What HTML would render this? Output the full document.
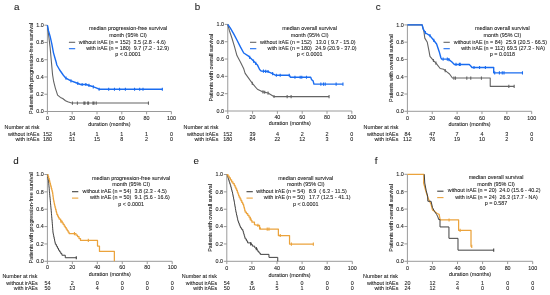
<!DOCTYPE html>
<html><head><meta charset="utf-8"><style>
html,body{margin:0;padding:0;background:#fff;}
#w{width:550px;height:295px;overflow:hidden;}
svg{display:block;font-family:"Liberation Sans",sans-serif;will-change:transform;}
text{stroke:#1a1a1a;stroke-width:0.08;}
</style></head><body>
<div id="w"><svg width="550" height="295" viewBox="0 0 550 295">
<rect width="550" height="295" fill="#fff"/>
<text x="14" y="10.3" font-size="9.8" fill="#1a1a1a">a</text>
<text transform="translate(32.9,68.35) rotate(-90)" text-anchor="middle" font-size="5.4" fill="#1a1a1a">Patients with progression-free survival</text>
<path d="M47.4 25.2V111.5H171.4M44.4 111.5H47.4M44.4 94.24H47.4M44.4 76.98H47.4M44.4 59.72H47.4M44.4 42.46H47.4M44.4 25.2H47.4M47.4 111.5V114.3M72.2 111.5V114.3M97 111.5V114.3M121.8 111.5V114.3M146.6 111.5V114.3M171.4 111.5V114.3" stroke="#8e8e8e" stroke-width="0.9" fill="none"/>
<text x="43.7" y="113.4" text-anchor="end" font-size="5.4" fill="#1a1a1a">0.0</text>
<text x="43.7" y="96.14" text-anchor="end" font-size="5.4" fill="#1a1a1a">0.2</text>
<text x="43.7" y="78.88" text-anchor="end" font-size="5.4" fill="#1a1a1a">0.4</text>
<text x="43.7" y="61.62" text-anchor="end" font-size="5.4" fill="#1a1a1a">0.6</text>
<text x="43.7" y="44.36" text-anchor="end" font-size="5.4" fill="#1a1a1a">0.8</text>
<text x="43.7" y="27.1" text-anchor="end" font-size="5.4" fill="#1a1a1a">1.0</text>
<text x="47.4" y="119.7" text-anchor="middle" font-size="5.4" fill="#1a1a1a">0</text>
<text x="72.2" y="119.7" text-anchor="middle" font-size="5.4" fill="#1a1a1a">20</text>
<text x="97" y="119.7" text-anchor="middle" font-size="5.4" fill="#1a1a1a">40</text>
<text x="121.8" y="119.7" text-anchor="middle" font-size="5.4" fill="#1a1a1a">60</text>
<text x="146.6" y="119.7" text-anchor="middle" font-size="5.4" fill="#1a1a1a">80</text>
<text x="171.4" y="119.7" text-anchor="middle" font-size="5.4" fill="#1a1a1a">100</text>
<text x="109.4" y="125.6" text-anchor="middle" font-size="5.4" fill="#1a1a1a">duration (months)</text>
<text x="4.5" y="128.6" font-size="5.4" fill="#1a1a1a">Number at risk</text>
<text x="39.4" y="136" text-anchor="end" font-size="5.4" fill="#1a1a1a">without irAEs</text>
<text x="39.4" y="140.8" text-anchor="end" font-size="5.4" fill="#1a1a1a">with irAEs</text>
<text x="47.4" y="136" text-anchor="middle" font-size="5.4" fill="#1a1a1a">152</text>
<text x="72.2" y="136" text-anchor="middle" font-size="5.4" fill="#1a1a1a">14</text>
<text x="97" y="136" text-anchor="middle" font-size="5.4" fill="#1a1a1a">1</text>
<text x="121.8" y="136" text-anchor="middle" font-size="5.4" fill="#1a1a1a">1</text>
<text x="146.6" y="136" text-anchor="middle" font-size="5.4" fill="#1a1a1a">1</text>
<text x="171.4" y="136" text-anchor="middle" font-size="5.4" fill="#1a1a1a">0</text>
<text x="47.4" y="140.8" text-anchor="middle" font-size="5.4" fill="#1a1a1a">180</text>
<text x="72.2" y="140.8" text-anchor="middle" font-size="5.4" fill="#1a1a1a">51</text>
<text x="97" y="140.8" text-anchor="middle" font-size="5.4" fill="#1a1a1a">15</text>
<text x="121.8" y="140.8" text-anchor="middle" font-size="5.4" fill="#1a1a1a">8</text>
<text x="146.6" y="140.8" text-anchor="middle" font-size="5.4" fill="#1a1a1a">2</text>
<text x="171.4" y="140.8" text-anchor="middle" font-size="5.4" fill="#1a1a1a">0</text>
<text x="128" y="30.3" text-anchor="middle" font-size="5.4" fill="#1a1a1a">median progression-free survival</text>
<text x="128" y="36.8" text-anchor="middle" font-size="5.4" fill="#1a1a1a">month (95% CI)</text>
<path d="M68.9 42.3H75.2" stroke="#646464" stroke-width="1.1"/>
<text x="107.5" y="43.5" text-anchor="end" font-size="5.4" fill="#1a1a1a">without irAE</text>
<text x="108.8" y="43.5" font-size="5.4" fill="#1a1a1a">(n = 152)</text>
<text x="133.5" y="43.5" font-size="5.4" fill="#1a1a1a" xml:space="preserve">3.5 (2.8 - 4.6)</text>
<path d="M68.9 48.7H75.2" stroke="#1a6cf0" stroke-width="1.1"/>
<text x="107.5" y="49.9" text-anchor="end" font-size="5.4" fill="#1a1a1a">with irAE</text>
<text x="108.8" y="49.9" font-size="5.4" fill="#1a1a1a">(n = 180)</text>
<text x="133.8" y="49.9" font-size="5.4" fill="#1a1a1a" xml:space="preserve">9.7 (7.2 - 12.9)</text>
<text x="128" y="56.3" text-anchor="middle" font-size="5.4" fill="#1a1a1a">p < 0.0001</text>
<path d="M47.4 25.2 L48.7 35.56 L50.13 47.64 L51.37 61.45 L52.6 75 L53.7 81.73 L55.4 88.37 L57.61 95.1 L60.4 97.43 L62.7 98.47 L65.5 100.71 L67.74 101.83 L71.58 103.04 L148.46 103.04" stroke="#646464" stroke-width="1.1" fill="none" stroke-linejoin="round"/>
<path d="M72.45 101.44V104.64M77.41 101.44V104.64M83.86 101.44V104.64M84.97 101.44V104.64M87.7 101.44V104.64M88.57 101.44V104.64M92.91 101.44V104.64M94.02 101.44V104.64M96.26 101.44V104.64M148.46 101.44V104.64" stroke="#646464" stroke-width="1.1"/>
<path d="M47.4 25.2 L48.39 30.38 L50.13 36.42 L51.86 44.19 L53.48 52.82 L55.96 61.45 L56.82 64.98 L59.68 69.99 L63.2 75 L65.5 77.84 L70.46 80.6 L76.11 82.76 L80.63 84.49 L86.21 84.49 L91.67 86.21 L96.19 87.94 L99.11 89.23 L162.35 89.23" stroke="#1a6cf0" stroke-width="1.4" fill="none" stroke-linejoin="round"/>
<path d="M66 76.52V79.72M70.96 79.19V82.39M77.78 81.8V85M82.12 82.89V86.09M85.84 82.89V86.09M88.94 83.75V86.95M93.28 85.23V88.43M99.11 87.63V90.83M108.66 87.63V90.83M114.48 87.63V90.83M119.57 87.63V90.83M125.4 87.63V90.83M134.57 87.63V90.83M139.66 87.63V90.83M143 87.63V90.83M162.35 87.63V90.83" stroke="#1a6cf0" stroke-width="1.1"/>
<text x="194.7" y="10.3" font-size="9.8" fill="#1a1a1a">b</text>
<text transform="translate(213.25,67.7) rotate(-90)" text-anchor="middle" font-size="5.4" fill="#1a1a1a">Patients with overall survival</text>
<path d="M227.75 24.4V111H351.85M224.75 111H227.75M224.75 93.68H227.75M224.75 76.36H227.75M224.75 59.04H227.75M224.75 41.72H227.75M224.75 24.4H227.75M227.75 111V113.8M252.57 111V113.8M277.39 111V113.8M302.21 111V113.8M327.03 111V113.8M351.85 111V113.8" stroke="#8e8e8e" stroke-width="0.9" fill="none"/>
<text x="224.05" y="112.9" text-anchor="end" font-size="5.4" fill="#1a1a1a">0.0</text>
<text x="224.05" y="95.58" text-anchor="end" font-size="5.4" fill="#1a1a1a">0.2</text>
<text x="224.05" y="78.26" text-anchor="end" font-size="5.4" fill="#1a1a1a">0.4</text>
<text x="224.05" y="60.94" text-anchor="end" font-size="5.4" fill="#1a1a1a">0.6</text>
<text x="224.05" y="43.62" text-anchor="end" font-size="5.4" fill="#1a1a1a">0.8</text>
<text x="224.05" y="26.3" text-anchor="end" font-size="5.4" fill="#1a1a1a">1.0</text>
<text x="227.75" y="118.9" text-anchor="middle" font-size="5.4" fill="#1a1a1a">0</text>
<text x="252.57" y="118.9" text-anchor="middle" font-size="5.4" fill="#1a1a1a">20</text>
<text x="277.39" y="118.9" text-anchor="middle" font-size="5.4" fill="#1a1a1a">40</text>
<text x="302.21" y="118.9" text-anchor="middle" font-size="5.4" fill="#1a1a1a">60</text>
<text x="327.03" y="118.9" text-anchor="middle" font-size="5.4" fill="#1a1a1a">80</text>
<text x="351.85" y="118.9" text-anchor="middle" font-size="5.4" fill="#1a1a1a">100</text>
<text x="289.8" y="124.8" text-anchor="middle" font-size="5.4" fill="#1a1a1a">duration (months)</text>
<text x="183.5" y="128.6" font-size="5.4" fill="#1a1a1a">Number at risk</text>
<text x="218.4" y="136.1" text-anchor="end" font-size="5.4" fill="#1a1a1a">without irAEs</text>
<text x="218.4" y="140.9" text-anchor="end" font-size="5.4" fill="#1a1a1a">with irAEs</text>
<text x="227.75" y="136.1" text-anchor="middle" font-size="5.4" fill="#1a1a1a">152</text>
<text x="252.57" y="136.1" text-anchor="middle" font-size="5.4" fill="#1a1a1a">39</text>
<text x="277.39" y="136.1" text-anchor="middle" font-size="5.4" fill="#1a1a1a">4</text>
<text x="302.21" y="136.1" text-anchor="middle" font-size="5.4" fill="#1a1a1a">2</text>
<text x="327.03" y="136.1" text-anchor="middle" font-size="5.4" fill="#1a1a1a">2</text>
<text x="351.85" y="136.1" text-anchor="middle" font-size="5.4" fill="#1a1a1a">0</text>
<text x="227.75" y="140.9" text-anchor="middle" font-size="5.4" fill="#1a1a1a">180</text>
<text x="252.57" y="140.9" text-anchor="middle" font-size="5.4" fill="#1a1a1a">84</text>
<text x="277.39" y="140.9" text-anchor="middle" font-size="5.4" fill="#1a1a1a">22</text>
<text x="302.21" y="140.9" text-anchor="middle" font-size="5.4" fill="#1a1a1a">12</text>
<text x="327.03" y="140.9" text-anchor="middle" font-size="5.4" fill="#1a1a1a">3</text>
<text x="351.85" y="140.9" text-anchor="middle" font-size="5.4" fill="#1a1a1a">0</text>
<text x="309.6" y="30.3" text-anchor="middle" font-size="5.4" fill="#1a1a1a">median overall survival</text>
<text x="309.6" y="36.8" text-anchor="middle" font-size="5.4" fill="#1a1a1a">month (95% CI)</text>
<path d="M250 42.3H256.3" stroke="#646464" stroke-width="1.1"/>
<text x="288.8" y="43.5" text-anchor="end" font-size="5.4" fill="#1a1a1a">without irAE</text>
<text x="290.1" y="43.5" font-size="5.4" fill="#1a1a1a">(n = 152)</text>
<text x="315.8" y="43.5" font-size="5.4" fill="#1a1a1a" xml:space="preserve">13.0 ( 9.7 - 15.0)</text>
<path d="M250 48.7H256.3" stroke="#1a6cf0" stroke-width="1.1"/>
<text x="288.8" y="49.9" text-anchor="end" font-size="5.4" fill="#1a1a1a">with irAE</text>
<text x="290.1" y="49.9" font-size="5.4" fill="#1a1a1a">(n = 180)</text>
<text x="315.3" y="49.9" font-size="5.4" fill="#1a1a1a" xml:space="preserve">24.9 (20.9 - 37.0)</text>
<text x="309.6" y="56.3" text-anchor="middle" font-size="5.4" fill="#1a1a1a">p < 0.0001</text>
<path d="M227.75 24.4 L229.36 30.46 L231.97 38.26 L234.57 46.92 L236.93 55.58 L240.4 61.98 L243.75 68.83 L245.15 73.33 L248.95 78.61 L252.8 83.98 L257.39 89.26 L261.97 91.6 L268.05 93.07 L273.38 96.19 L274.25 96.62 L329.06 96.62" stroke="#646464" stroke-width="1.1" fill="none" stroke-linejoin="round"/>
<path d="M252.3 81.69V84.89M262.97 90.24V93.44M264.7 90.66V93.86M268.05 91.47V94.67M274 94.9V98.1M287.15 95.02V98.22M291.11 95.02V98.22M329.06 95.02V98.22" stroke="#646464" stroke-width="1.1"/>
<path d="M227.75 24.4 L230.23 27.86 L233.7 33.93 L236.93 39.99 L240.4 46.92 L243.75 52.98 L248.15 55.84 L252.8 60.34 L257.39 64.93 L259.62 69.52 L261.11 70.99 L268.05 71.51 L271.89 73.33 L274.87 74.8 L275.99 75.23 L289.5 75.23 L290.37 77.23 L310.71 77.23 L311.45 79.39 L313.19 81.12 L313.93 84.15 L342.95 84.15" stroke="#1a6cf0" stroke-width="1.4" fill="none" stroke-linejoin="round"/>
<path d="M249.7 55.74V58.94M253.54 59.48V62.68M255.77 61.72V64.92M263.46 69.57V72.77M265.69 69.73V72.93M268.05 69.91V73.11M272.64 72.1V75.3M276.36 73.63V76.83M280.2 73.63V76.83M289.25 73.63V76.83M294.96 75.63V78.83M300.17 75.63V78.83M301.78 75.63V78.83M306.49 75.63V78.83M320.87 82.55V85.75M323.48 82.55V85.75M325.21 82.55V85.75M336.13 82.55V85.75M342.95 82.55V85.75" stroke="#1a6cf0" stroke-width="1.1"/>
<text x="375.8" y="10.3" font-size="9.8" fill="#1a1a1a">c</text>
<text transform="translate(392.9,68.1) rotate(-90)" text-anchor="middle" font-size="5.4" fill="#1a1a1a">Patients with overall survival</text>
<path d="M407.4 24.9V111.3H531.7M404.4 111.3H407.4M404.4 94.02H407.4M404.4 76.74H407.4M404.4 59.46H407.4M404.4 42.18H407.4M404.4 24.9H407.4M407.4 111.3V114.1M432.26 111.3V114.1M457.12 111.3V114.1M481.98 111.3V114.1M506.84 111.3V114.1M531.7 111.3V114.1" stroke="#8e8e8e" stroke-width="0.9" fill="none"/>
<text x="403.7" y="113.2" text-anchor="end" font-size="5.4" fill="#1a1a1a">0.0</text>
<text x="403.7" y="95.92" text-anchor="end" font-size="5.4" fill="#1a1a1a">0.2</text>
<text x="403.7" y="78.64" text-anchor="end" font-size="5.4" fill="#1a1a1a">0.4</text>
<text x="403.7" y="61.36" text-anchor="end" font-size="5.4" fill="#1a1a1a">0.6</text>
<text x="403.7" y="44.08" text-anchor="end" font-size="5.4" fill="#1a1a1a">0.8</text>
<text x="403.7" y="26.8" text-anchor="end" font-size="5.4" fill="#1a1a1a">1.0</text>
<text x="407.4" y="119.9" text-anchor="middle" font-size="5.4" fill="#1a1a1a">0</text>
<text x="432.26" y="119.9" text-anchor="middle" font-size="5.4" fill="#1a1a1a">20</text>
<text x="457.12" y="119.9" text-anchor="middle" font-size="5.4" fill="#1a1a1a">40</text>
<text x="481.98" y="119.9" text-anchor="middle" font-size="5.4" fill="#1a1a1a">60</text>
<text x="506.84" y="119.9" text-anchor="middle" font-size="5.4" fill="#1a1a1a">80</text>
<text x="531.7" y="119.9" text-anchor="middle" font-size="5.4" fill="#1a1a1a">100</text>
<text x="469.55" y="126.2" text-anchor="middle" font-size="5.4" fill="#1a1a1a">duration (months)</text>
<text x="363.5" y="128.6" font-size="5.4" fill="#1a1a1a">Number at risk</text>
<text x="398.4" y="136" text-anchor="end" font-size="5.4" fill="#1a1a1a">without irAEs</text>
<text x="398.4" y="140.8" text-anchor="end" font-size="5.4" fill="#1a1a1a">with irAEs</text>
<text x="407.4" y="136" text-anchor="middle" font-size="5.4" fill="#1a1a1a">84</text>
<text x="432.26" y="136" text-anchor="middle" font-size="5.4" fill="#1a1a1a">47</text>
<text x="457.12" y="136" text-anchor="middle" font-size="5.4" fill="#1a1a1a">7</text>
<text x="481.98" y="136" text-anchor="middle" font-size="5.4" fill="#1a1a1a">4</text>
<text x="506.84" y="136" text-anchor="middle" font-size="5.4" fill="#1a1a1a">3</text>
<text x="531.7" y="136" text-anchor="middle" font-size="5.4" fill="#1a1a1a">0</text>
<text x="407.4" y="140.8" text-anchor="middle" font-size="5.4" fill="#1a1a1a">112</text>
<text x="432.26" y="140.8" text-anchor="middle" font-size="5.4" fill="#1a1a1a">76</text>
<text x="457.12" y="140.8" text-anchor="middle" font-size="5.4" fill="#1a1a1a">19</text>
<text x="481.98" y="140.8" text-anchor="middle" font-size="5.4" fill="#1a1a1a">10</text>
<text x="506.84" y="140.8" text-anchor="middle" font-size="5.4" fill="#1a1a1a">2</text>
<text x="531.7" y="140.8" text-anchor="middle" font-size="5.4" fill="#1a1a1a">0</text>
<text x="502.4" y="30.3" text-anchor="middle" font-size="5.4" fill="#1a1a1a">median overall survival</text>
<text x="502.4" y="36.8" text-anchor="middle" font-size="5.4" fill="#1a1a1a">month (95% CI)</text>
<path d="M443.5 42.3H449.8" stroke="#646464" stroke-width="1.1"/>
<text x="482.5" y="43.5" text-anchor="end" font-size="5.4" fill="#1a1a1a">without irAE</text>
<text x="483.8" y="43.5" font-size="5.4" fill="#1a1a1a">(n = 84)</text>
<text x="505.8" y="43.5" font-size="5.4" fill="#1a1a1a" xml:space="preserve">25.9 (20.5 - 66.5)</text>
<path d="M443.5 48.7H449.8" stroke="#1a6cf0" stroke-width="1.1"/>
<text x="482.5" y="49.9" text-anchor="end" font-size="5.4" fill="#1a1a1a">with irAE</text>
<text x="483.8" y="49.9" font-size="5.4" fill="#1a1a1a">(n = 112)</text>
<text x="506.8" y="49.9" font-size="5.4" fill="#1a1a1a" xml:space="preserve">69.5 (27.3 - NA)</text>
<text x="502.4" y="56.3" text-anchor="middle" font-size="5.4" fill="#1a1a1a">p = 0.0118</text>
<path d="M407.4 24.9 L422.16 24.9 L423.89 31.29 L424.8 38.12 L427.3 42.27 L428.98 50.82 L429.97 56.44 L432.7 59.72 L434.06 61.19 L436.6 63.78 L437.53 65.16 L440.2 68.53 L443.61 69.22 L446.89 71.9 L449.56 73.98 L452.41 78.04 L490.23 78.04 L490.23 86.33 L514.16 86.33" stroke="#646464" stroke-width="1.1" fill="none" stroke-linejoin="round"/>
<path d="M433.44 58.92V62.12M435.92 61.48V64.68M445.22 68.94V72.14M453.9 76.44V79.64M455.51 76.44V79.64M466.8 76.44V79.64M470.76 76.44V79.64M481.43 76.44V79.64M508.83 84.73V87.93M514.16 84.73V87.93" stroke="#646464" stroke-width="1.1"/>
<path d="M407.4 24.9 L422.16 24.9 L423.1 28.79 L425.6 33.02 L429.91 35.61 L433.32 39.76 L436.6 43.99 L439.21 51.68 L440.88 57.73 L441.62 59.11 L448.32 59.11 L451.67 61.79 L454.4 64.47 L469.28 64.47 L470.76 65.94 L472 67.5 L493.7 67.5 L493.7 72.85 L522.47 72.85" stroke="#1a6cf0" stroke-width="1.4" fill="none" stroke-linejoin="round"/>
<path d="M425.38 31.04V34.24M429.97 34.09V37.29M433.81 38.8V42M443.11 57.51V60.71M447.33 57.51V60.71M448.94 58.01V61.21M456.01 62.87V66.07M459.36 62.87V66.07M460.22 62.87V66.07M473.99 65.9V69.1M479.57 65.9V69.1M485.4 65.9V69.1M494.7 71.25V74.45M499.41 71.25V74.45M502.26 71.25V74.45M504 71.25V74.45M522.47 71.25V74.45" stroke="#1a6cf0" stroke-width="1.1"/>
<text x="13.3" y="163.6" font-size="9.8" fill="#1a1a1a">d</text>
<text transform="translate(32.9,217.9) rotate(-90)" text-anchor="middle" font-size="5.4" fill="#1a1a1a">Patients with progression-free survival</text>
<path d="M47.4 174.5V261.3H172.2M44.4 261.3H47.4M44.4 243.94H47.4M44.4 226.58H47.4M44.4 209.22H47.4M44.4 191.86H47.4M44.4 174.5H47.4M47.4 261.3V264.1M72.36 261.3V264.1M97.32 261.3V264.1M122.28 261.3V264.1M147.24 261.3V264.1M172.2 261.3V264.1" stroke="#8e8e8e" stroke-width="0.9" fill="none"/>
<text x="43.7" y="263.2" text-anchor="end" font-size="5.4" fill="#1a1a1a">0.0</text>
<text x="43.7" y="245.84" text-anchor="end" font-size="5.4" fill="#1a1a1a">0.2</text>
<text x="43.7" y="228.48" text-anchor="end" font-size="5.4" fill="#1a1a1a">0.4</text>
<text x="43.7" y="211.12" text-anchor="end" font-size="5.4" fill="#1a1a1a">0.6</text>
<text x="43.7" y="193.76" text-anchor="end" font-size="5.4" fill="#1a1a1a">0.8</text>
<text x="43.7" y="176.4" text-anchor="end" font-size="5.4" fill="#1a1a1a">1.0</text>
<text x="47.4" y="269.4" text-anchor="middle" font-size="5.4" fill="#1a1a1a">0</text>
<text x="72.36" y="269.4" text-anchor="middle" font-size="5.4" fill="#1a1a1a">20</text>
<text x="97.32" y="269.4" text-anchor="middle" font-size="5.4" fill="#1a1a1a">40</text>
<text x="122.28" y="269.4" text-anchor="middle" font-size="5.4" fill="#1a1a1a">60</text>
<text x="147.24" y="269.4" text-anchor="middle" font-size="5.4" fill="#1a1a1a">80</text>
<text x="172.2" y="269.4" text-anchor="middle" font-size="5.4" fill="#1a1a1a">100</text>
<text x="109.8" y="276.3" text-anchor="middle" font-size="5.4" fill="#1a1a1a">duration (months)</text>
<text x="2.4" y="277.6" font-size="5.4" fill="#1a1a1a">Number at risk</text>
<text x="37.8" y="285" text-anchor="end" font-size="5.4" fill="#1a1a1a">without irAEs</text>
<text x="37.8" y="289.9" text-anchor="end" font-size="5.4" fill="#1a1a1a">with irAEs</text>
<text x="47.4" y="285" text-anchor="middle" font-size="5.4" fill="#1a1a1a">54</text>
<text x="72.36" y="285" text-anchor="middle" font-size="5.4" fill="#1a1a1a">2</text>
<text x="97.32" y="285" text-anchor="middle" font-size="5.4" fill="#1a1a1a">0</text>
<text x="122.28" y="285" text-anchor="middle" font-size="5.4" fill="#1a1a1a">0</text>
<text x="147.24" y="285" text-anchor="middle" font-size="5.4" fill="#1a1a1a">0</text>
<text x="172.2" y="285" text-anchor="middle" font-size="5.4" fill="#1a1a1a">0</text>
<text x="47.4" y="289.9" text-anchor="middle" font-size="5.4" fill="#1a1a1a">50</text>
<text x="72.36" y="289.9" text-anchor="middle" font-size="5.4" fill="#1a1a1a">13</text>
<text x="97.32" y="289.9" text-anchor="middle" font-size="5.4" fill="#1a1a1a">4</text>
<text x="122.28" y="289.9" text-anchor="middle" font-size="5.4" fill="#1a1a1a">0</text>
<text x="147.24" y="289.9" text-anchor="middle" font-size="5.4" fill="#1a1a1a">0</text>
<text x="172.2" y="289.9" text-anchor="middle" font-size="5.4" fill="#1a1a1a">0</text>
<text x="131.1" y="179.7" text-anchor="middle" font-size="5.4" fill="#1a1a1a">median progression-free survival</text>
<text x="131.1" y="186.2" text-anchor="middle" font-size="5.4" fill="#1a1a1a">month (95% CI)</text>
<path d="M72 191.7H78.3" stroke="#404040" stroke-width="1.1"/>
<text x="111.3" y="192.9" text-anchor="end" font-size="5.4" fill="#1a1a1a">without irAE</text>
<text x="112.6" y="192.9" font-size="5.4" fill="#1a1a1a">(n = 54)</text>
<text x="134.5" y="192.9" font-size="5.4" fill="#1a1a1a" xml:space="preserve">3.8 (2.3 - 4.5)</text>
<path d="M72 198.1H78.3" stroke="#eba33c" stroke-width="1.1"/>
<text x="111.3" y="199.3" text-anchor="end" font-size="5.4" fill="#1a1a1a">with irAE</text>
<text x="112.6" y="199.3" font-size="5.4" fill="#1a1a1a">(n = 50)</text>
<text x="134.5" y="199.3" font-size="5.4" fill="#1a1a1a" xml:space="preserve">9.1 (5.6 - 16.6)</text>
<text x="131.1" y="205.7" text-anchor="middle" font-size="5.4" fill="#1a1a1a">p < 0.0001</text>
<path d="M47.4 174.5 L47.66 174.5 L47.66 176.32 L47.92 176.32 L47.92 178.15 L48.18 178.15 L48.18 179.97 L48.44 179.97 L48.44 181.79 L48.7 181.79 L48.7 183.61 L48.84 183.61 L48.84 185.26 L48.97 185.26 L48.97 186.91 L49.11 186.91 L49.11 188.56 L49.25 188.56 L49.25 190.21 L49.38 190.21 L49.38 191.86 L49.55 191.86 L49.55 193.6 L49.71 193.6 L49.71 195.33 L49.88 195.33 L49.88 197.07 L50.05 197.07 L50.05 198.8 L50.21 198.8 L50.21 200.54 L50.38 200.54 L50.38 202.28 L50.52 202.28 L50.52 203.93 L50.67 203.93 L50.67 205.57 L50.82 205.57 L50.82 207.22 L50.97 207.22 L50.97 208.87 L51.12 208.87 L51.12 210.52 L51.26 210.52 L51.26 212.08 L51.39 212.08 L51.39 213.65 L51.53 213.65 L51.53 215.21 L51.67 215.21 L51.67 216.77 L51.8 216.77 L51.8 218.33 L51.94 218.33 L51.94 220.03 L52.08 220.03 L52.08 221.73 L52.22 221.73 L52.22 223.43 L52.36 223.43 L52.36 225.12 L52.5 225.12 L52.5 226.82 L52.64 226.82 L52.64 228.52 L52.78 228.52 L52.78 230.22 L52.92 230.22 L52.92 231.91 L53.05 231.91 L53.05 233.61 L53.43 233.61 L53.43 235.39 L53.8 235.39 L53.8 237.17 L54.18 237.17 L54.18 238.95 L54.55 238.95 L54.55 240.73 L54.92 240.73 L54.92 242.51 L55.3 242.51 L55.3 244.29 L56.37 244.29 L56.37 246.25 L57.43 246.25 L57.43 248.22 L58.5 248.22 L58.5 250.19 L59.63 250.19 L59.63 251.87 L60.77 251.87 L60.77 253.55 L61.91 253.55 L61.91 255.22 L65.26 255.22 L65.26 257.74 L76.29 257.74" stroke="#404040" stroke-width="1.0" fill="none" stroke-linejoin="round"/>
<path d="M76.29 256.14V259.34" stroke="#404040" stroke-width="1.1"/>
<path d="M47.4 174.5 L48 174.5 L48 176.38 L48.6 176.38 L48.6 178.26 L49.2 178.26 L49.2 180.14 L49.62 180.14 L49.62 181.77 L50.03 181.77 L50.03 183.4 L50.45 183.4 L50.45 185.02 L50.87 185.02 L50.87 186.65 L51.31 186.65 L51.31 188.39 L51.74 188.39 L51.74 190.12 L52.17 190.12 L52.17 191.86 L52.61 191.86 L52.61 193.6 L52.82 193.6 L52.82 195.2 L53.04 195.2 L53.04 196.81 L53.26 196.81 L53.26 198.41 L53.48 198.41 L53.48 200.02 L53.79 200.02 L53.79 201.54 L54.1 201.54 L54.1 203.06 L54.41 203.06 L54.41 204.58 L54.72 204.58 L54.72 206.1 L55.15 206.1 L55.15 207.78 L55.59 207.78 L55.59 209.46 L56.03 209.46 L56.03 211.15 L56.46 211.15 L56.46 212.83 L56.9 212.83 L56.9 214.51 L57.66 214.51 L57.66 216.05 L58.42 216.05 L58.42 217.58 L59.18 217.58 L59.18 219.12 L60.67 219.12 L60.67 221.02 L62.16 221.02 L62.16 222.93 L63.19 222.93 L63.19 224.47 L64.22 224.47 L64.22 226 L65.26 226 L65.26 227.53 L66.22 227.53 L66.22 229.05 L67.18 229.05 L67.18 230.57 L68.14 230.57 L68.14 232.09 L69.1 232.09 L69.1 233.61 L74.43 233.61 L75.98 233.61 L75.98 235.09 L77.53 235.09 L77.53 236.56 L79.02 236.56 L79.02 238.52 L80.51 238.52 L80.51 240.47 L97.5 240.47 L97.5 246.11 L99.48 246.11 L99.48 251.4 L114.36 251.4 L114.36 261.3" stroke="#eba33c" stroke-width="1.25" fill="none" stroke-linejoin="round"/>
<path d="M61.04 219.9V223.1M74.43 232.01V235.21M88.32 238.87V242.07" stroke="#eba33c" stroke-width="1.1"/>
<text x="193.6" y="163.6" font-size="9.8" fill="#1a1a1a">e</text>
<text transform="translate(212.3,217.9) rotate(-90)" text-anchor="middle" font-size="5.4" fill="#1a1a1a">Patients with overall survival</text>
<path d="M226.8 174.5V261.3H352.3M223.8 261.3H226.8M223.8 243.94H226.8M223.8 226.58H226.8M223.8 209.22H226.8M223.8 191.86H226.8M223.8 174.5H226.8M226.8 261.3V264.1M251.9 261.3V264.1M277 261.3V264.1M302.1 261.3V264.1M327.2 261.3V264.1M352.3 261.3V264.1" stroke="#8e8e8e" stroke-width="0.9" fill="none"/>
<text x="223.1" y="263.2" text-anchor="end" font-size="5.4" fill="#1a1a1a">0.0</text>
<text x="223.1" y="245.84" text-anchor="end" font-size="5.4" fill="#1a1a1a">0.2</text>
<text x="223.1" y="228.48" text-anchor="end" font-size="5.4" fill="#1a1a1a">0.4</text>
<text x="223.1" y="211.12" text-anchor="end" font-size="5.4" fill="#1a1a1a">0.6</text>
<text x="223.1" y="193.76" text-anchor="end" font-size="5.4" fill="#1a1a1a">0.8</text>
<text x="223.1" y="176.4" text-anchor="end" font-size="5.4" fill="#1a1a1a">1.0</text>
<text x="226.8" y="270.4" text-anchor="middle" font-size="5.4" fill="#1a1a1a">0</text>
<text x="251.9" y="270.4" text-anchor="middle" font-size="5.4" fill="#1a1a1a">20</text>
<text x="277" y="270.4" text-anchor="middle" font-size="5.4" fill="#1a1a1a">40</text>
<text x="302.1" y="270.4" text-anchor="middle" font-size="5.4" fill="#1a1a1a">60</text>
<text x="327.2" y="270.4" text-anchor="middle" font-size="5.4" fill="#1a1a1a">80</text>
<text x="352.3" y="270.4" text-anchor="middle" font-size="5.4" fill="#1a1a1a">100</text>
<text x="289.55" y="276.7" text-anchor="middle" font-size="5.4" fill="#1a1a1a">duration (months)</text>
<text x="181.8" y="277.5" font-size="5.4" fill="#1a1a1a">Number at risk</text>
<text x="217.3" y="285.2" text-anchor="end" font-size="5.4" fill="#1a1a1a">without irAEs</text>
<text x="217.3" y="290.3" text-anchor="end" font-size="5.4" fill="#1a1a1a">with irAEs</text>
<text x="226.8" y="285.2" text-anchor="middle" font-size="5.4" fill="#1a1a1a">54</text>
<text x="251.9" y="285.2" text-anchor="middle" font-size="5.4" fill="#1a1a1a">8</text>
<text x="277" y="285.2" text-anchor="middle" font-size="5.4" fill="#1a1a1a">1</text>
<text x="302.1" y="285.2" text-anchor="middle" font-size="5.4" fill="#1a1a1a">0</text>
<text x="327.2" y="285.2" text-anchor="middle" font-size="5.4" fill="#1a1a1a">0</text>
<text x="352.3" y="285.2" text-anchor="middle" font-size="5.4" fill="#1a1a1a">0</text>
<text x="226.8" y="290.3" text-anchor="middle" font-size="5.4" fill="#1a1a1a">50</text>
<text x="251.9" y="290.3" text-anchor="middle" font-size="5.4" fill="#1a1a1a">16</text>
<text x="277" y="290.3" text-anchor="middle" font-size="5.4" fill="#1a1a1a">5</text>
<text x="302.1" y="290.3" text-anchor="middle" font-size="5.4" fill="#1a1a1a">1</text>
<text x="327.2" y="290.3" text-anchor="middle" font-size="5.4" fill="#1a1a1a">0</text>
<text x="352.3" y="290.3" text-anchor="middle" font-size="5.4" fill="#1a1a1a">0</text>
<text x="305.75" y="179.7" text-anchor="middle" font-size="5.4" fill="#1a1a1a">median overall survival</text>
<text x="305.75" y="186.2" text-anchor="middle" font-size="5.4" fill="#1a1a1a">month (95% CI)</text>
<path d="M246.5 191.7H252.8" stroke="#404040" stroke-width="1.1"/>
<text x="285" y="192.9" text-anchor="end" font-size="5.4" fill="#1a1a1a">without irAE</text>
<text x="286.3" y="192.9" font-size="5.4" fill="#1a1a1a">(n = 54)</text>
<text x="308.8" y="192.9" font-size="5.4" fill="#1a1a1a" xml:space="preserve">8.9  ( 6.3 - 11.5)</text>
<path d="M246.5 198.1H252.8" stroke="#eba33c" stroke-width="1.1"/>
<text x="285" y="199.3" text-anchor="end" font-size="5.4" fill="#1a1a1a">with irAE</text>
<text x="286.3" y="199.3" font-size="5.4" fill="#1a1a1a">(n = 50)</text>
<text x="309.1" y="199.3" font-size="5.4" fill="#1a1a1a" xml:space="preserve">17.7 (12.5 - 41.1)</text>
<text x="305.75" y="205.7" text-anchor="middle" font-size="5.4" fill="#1a1a1a">p < 0.0001</text>
<path d="M226.8 174.5 L227.42 174.5 L227.42 176.41 L228.04 176.41 L228.04 178.32 L228.66 178.32 L228.66 180.23 L229.19 180.23 L229.19 181.9 L229.71 181.9 L229.71 183.57 L230.24 183.57 L230.24 185.24 L230.77 185.24 L230.77 186.91 L231.2 186.91 L231.2 188.58 L231.64 188.58 L231.64 190.25 L232.07 190.25 L232.07 191.93 L232.5 191.93 L232.5 193.6 L232.85 193.6 L232.85 195.33 L233.2 195.33 L233.2 197.07 L233.55 197.07 L233.55 198.8 L233.89 198.8 L233.89 200.54 L234.24 200.54 L234.24 202.28 L234.51 202.28 L234.51 203.87 L234.78 203.87 L234.78 205.46 L235.05 205.46 L235.05 207.05 L235.31 207.05 L235.31 208.64 L235.58 208.64 L235.58 210.23 L235.85 210.23 L235.85 211.82 L236.2 211.82 L236.2 213.42 L236.55 213.42 L236.55 215.01 L236.91 215.01 L236.91 216.6 L237.26 216.6 L237.26 218.19 L237.61 218.19 L237.61 219.78 L237.96 219.78 L237.96 221.37 L238.58 221.37 L238.58 222.98 L239.2 222.98 L239.2 224.58 L239.82 224.58 L239.82 226.19 L240.44 226.19 L240.44 227.8 L241.62 227.8 L241.62 229.4 L242.8 229.4 L242.8 231.01 L243.27 231.01 L243.27 232.59 L243.74 232.59 L243.74 234.17 L244.21 234.17 L244.21 235.75 L244.68 235.75 L244.68 237.33 L245.15 237.33 L245.15 238.91 L246.39 238.91 L246.39 240.9 L247.63 240.9 L247.63 242.9 L249.99 242.9 L251.17 242.9 L251.17 244.5 L252.34 244.5 L252.34 246.11 L254.7 246.11 L254.7 247.67 L256.31 248.54 L257.12 248.54 L257.12 250.1 L257.92 250.1 L257.92 251.67 L259.1 251.67 L259.1 253.01 L260.28 253.01 L260.28 254.36 L268.96 254.36 L268.96 257.39 L277.76 257.39 L277.76 261.3" stroke="#404040" stroke-width="1.0" fill="none" stroke-linejoin="round"/>
<path d="M250.73 242.31V245.51M256.31 246.94V250.14" stroke="#404040" stroke-width="1.1"/>
<path d="M226.8 174.5 L227.98 174.5 L227.98 176.24 L229.16 176.24 L229.16 177.97 L230.4 177.97 L230.4 179.93 L231.64 179.93 L231.64 181.88 L232.94 181.88 L232.94 183.61 L234.24 183.61 L234.24 185.35 L235.07 185.35 L235.07 187.06 L235.89 187.06 L235.89 188.76 L236.72 188.76 L236.72 190.47 L237.34 190.47 L237.34 192.16 L237.96 192.16 L237.96 193.86 L238.58 193.86 L238.58 195.55 L239.2 195.55 L239.2 197.24 L240.07 197.24 L240.07 198.98 L240.94 198.98 L240.94 200.71 L241.8 200.71 L241.8 202.39 L242.67 202.39 L242.67 204.07 L243.54 204.07 L243.54 205.75 L243.94 205.75 L243.94 207.31 L244.35 207.31 L244.35 208.87 L244.75 208.87 L244.75 210.44 L245.15 210.44 L245.15 212 L246.45 212 L246.45 213.65 L247.76 213.65 L247.76 215.3 L249 215.3 L249 217.03 L250.24 217.03 L250.24 218.77 L251.1 218.77 L251.1 220.5 L251.97 220.5 L251.97 222.24 L254.45 222.24 L254.45 224.58 L257.92 225.45 L259.54 225.45 L259.54 227.97 L260.4 227.97 L260.4 229.18 L278.38 229.18 L278.38 235.52 L289.54 235.52 L289.54 244.11 L313.35 244.11" stroke="#eba33c" stroke-width="1.25" fill="none" stroke-linejoin="round"/>
<path d="M250.24 217.17V220.37M257.92 223.85V227.05M259.54 226.37V229.57M267.22 227.58V230.78M268.96 227.58V230.78M280.24 233.92V237.12M291.4 242.51V245.71M313.35 242.51V245.71" stroke="#eba33c" stroke-width="1.1"/>
<text x="374.7" y="163.6" font-size="9.8" fill="#1a1a1a">f</text>
<text transform="translate(392.9,217.8) rotate(-90)" text-anchor="middle" font-size="5.4" fill="#1a1a1a">Patients with overall survival</text>
<path d="M407.4 174.3V261.3H532.7M404.4 261.3H407.4M404.4 243.9H407.4M404.4 226.5H407.4M404.4 209.1H407.4M404.4 191.7H407.4M404.4 174.3H407.4M407.4 261.3V264.1M432.46 261.3V264.1M457.52 261.3V264.1M482.58 261.3V264.1M507.64 261.3V264.1M532.7 261.3V264.1" stroke="#8e8e8e" stroke-width="0.9" fill="none"/>
<text x="403.7" y="263.2" text-anchor="end" font-size="5.4" fill="#1a1a1a">0.0</text>
<text x="403.7" y="245.8" text-anchor="end" font-size="5.4" fill="#1a1a1a">0.2</text>
<text x="403.7" y="228.4" text-anchor="end" font-size="5.4" fill="#1a1a1a">0.4</text>
<text x="403.7" y="211" text-anchor="end" font-size="5.4" fill="#1a1a1a">0.6</text>
<text x="403.7" y="193.6" text-anchor="end" font-size="5.4" fill="#1a1a1a">0.8</text>
<text x="403.7" y="176.2" text-anchor="end" font-size="5.4" fill="#1a1a1a">1.0</text>
<text x="407.4" y="269.6" text-anchor="middle" font-size="5.4" fill="#1a1a1a">0</text>
<text x="432.46" y="269.6" text-anchor="middle" font-size="5.4" fill="#1a1a1a">20</text>
<text x="457.52" y="269.6" text-anchor="middle" font-size="5.4" fill="#1a1a1a">40</text>
<text x="482.58" y="269.6" text-anchor="middle" font-size="5.4" fill="#1a1a1a">60</text>
<text x="507.64" y="269.6" text-anchor="middle" font-size="5.4" fill="#1a1a1a">80</text>
<text x="532.7" y="269.6" text-anchor="middle" font-size="5.4" fill="#1a1a1a">100</text>
<text x="470.05" y="276.3" text-anchor="middle" font-size="5.4" fill="#1a1a1a">duration (months)</text>
<text x="363" y="277.5" font-size="5.4" fill="#1a1a1a">Number at risk</text>
<text x="398.4" y="285" text-anchor="end" font-size="5.4" fill="#1a1a1a">without irAEs</text>
<text x="398.4" y="290.2" text-anchor="end" font-size="5.4" fill="#1a1a1a">with irAEs</text>
<text x="407.4" y="285" text-anchor="middle" font-size="5.4" fill="#1a1a1a">20</text>
<text x="432.46" y="285" text-anchor="middle" font-size="5.4" fill="#1a1a1a">12</text>
<text x="457.52" y="285" text-anchor="middle" font-size="5.4" fill="#1a1a1a">2</text>
<text x="482.58" y="285" text-anchor="middle" font-size="5.4" fill="#1a1a1a">1</text>
<text x="507.64" y="285" text-anchor="middle" font-size="5.4" fill="#1a1a1a">0</text>
<text x="532.7" y="285" text-anchor="middle" font-size="5.4" fill="#1a1a1a">0</text>
<text x="407.4" y="290.2" text-anchor="middle" font-size="5.4" fill="#1a1a1a">24</text>
<text x="432.46" y="290.2" text-anchor="middle" font-size="5.4" fill="#1a1a1a">12</text>
<text x="457.52" y="290.2" text-anchor="middle" font-size="5.4" fill="#1a1a1a">4</text>
<text x="482.58" y="290.2" text-anchor="middle" font-size="5.4" fill="#1a1a1a">0</text>
<text x="507.64" y="290.2" text-anchor="middle" font-size="5.4" fill="#1a1a1a">0</text>
<text x="532.7" y="290.2" text-anchor="middle" font-size="5.4" fill="#1a1a1a">0</text>
<text x="496.05" y="179.2" text-anchor="middle" font-size="5.4" fill="#1a1a1a">median overall survival</text>
<text x="496.05" y="185.7" text-anchor="middle" font-size="5.4" fill="#1a1a1a">month (95% CI)</text>
<path d="M437.2 191.2H443.5" stroke="#404040" stroke-width="1.1"/>
<text x="476.5" y="192.4" text-anchor="end" font-size="5.4" fill="#1a1a1a">without irAE</text>
<text x="477.8" y="192.4" font-size="5.4" fill="#1a1a1a">(n = 20)</text>
<text x="499.3" y="192.4" font-size="5.4" fill="#1a1a1a" xml:space="preserve">24.0 (15.6 - 40.2)</text>
<path d="M437.2 197.6H443.5" stroke="#eba33c" stroke-width="1.1"/>
<text x="476.5" y="198.8" text-anchor="end" font-size="5.4" fill="#1a1a1a">with irAE</text>
<text x="477.8" y="198.8" font-size="5.4" fill="#1a1a1a">(n = 24)</text>
<text x="499.5" y="198.8" font-size="5.4" fill="#1a1a1a" xml:space="preserve">26.3 (17.7 - NA)</text>
<text x="496.05" y="205.2" text-anchor="middle" font-size="5.4" fill="#1a1a1a">p = 0.587</text>
<path d="M407.4 174.3 L423.89 174.3 L423.64 183 L425.75 190.83 L427.36 196.05 L429.1 200.4 L431.08 204.31 L432.45 209.97 L434.43 211.28 L437.16 213.45 L439.14 214.32 L440.14 219.98 L458.61 219.98 L458.61 230.33 L471.01 230.33 L471.01 246.34 L471.76 246.34" stroke="#eba33c" stroke-width="1.25" fill="none" stroke-linejoin="round"/>
<path d="M449.06 218.38V221.58M460.1 228.73V231.93M471.76 244.74V247.94" stroke="#eba33c" stroke-width="1.1"/>
<path d="M424.26 174.3 L424.76 183 L426.25 190.83 L427.61 196.05 L427.86 201.27 L431.08 201.27 L432.45 207.36 L434.43 211.28 L436.54 214.32 L437.9 216.93 L438.65 219.54 L440.01 219.54 L440.01 226.94 L448.94 226.94 L448.94 238.33 L457.99 238.33 L457.99 250.16 L493.7 250.16" stroke="#404040" stroke-width="1.0" fill="none" stroke-linejoin="round"/>
<path d="M493.7 248.56V251.76" stroke="#404040" stroke-width="1.1"/>
</svg></div>
</body></html>
